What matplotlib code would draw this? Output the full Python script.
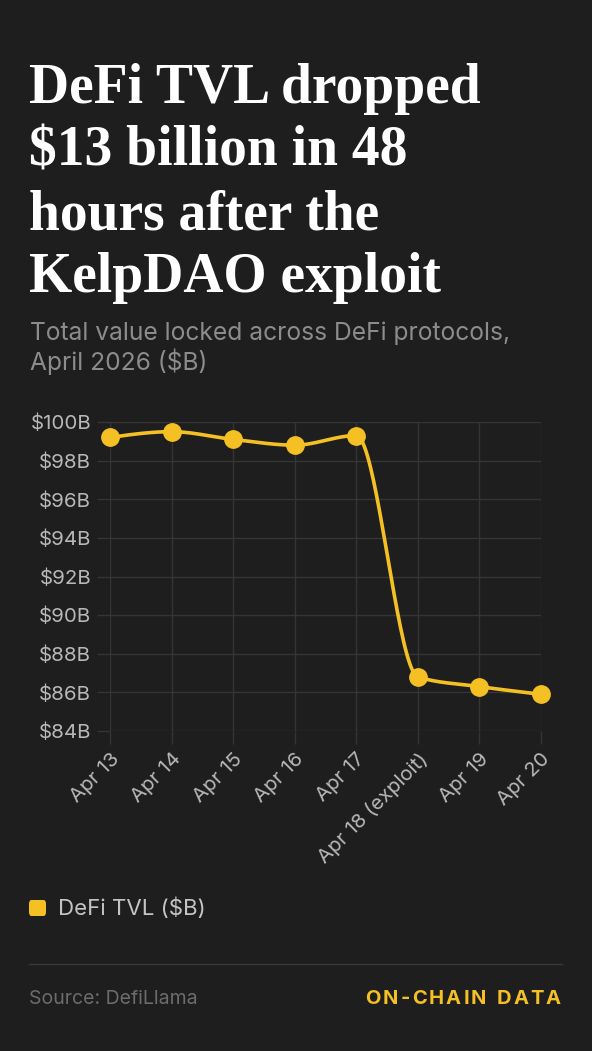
import numpy as np
import matplotlib.pyplot as plt
from matplotlib.patches import FancyBboxPatch
from matplotlib.lines import Line2D

# data
dates = ['Apr 13', 'Apr 14', 'Apr 15', 'Apr 16', 'Apr 17', 'Apr 18 (exploit)', 'Apr 19', 'Apr 20']
tvl = [99.2, 99.5, 99.1, 98.8, 99.3, 86.8, 86.3, 85.9]
y_ticks = [84, 86, 88, 90, 92, 94, 96, 98, 100]

title_lines = ['DeFi TVL dropped', '$13 billion in 48', 'hours after the', 'KelpDAO exploit']
subtitle_lines = ['Total value locked across DeFi protocols,', 'April 2026 ($B)']
legend_label = 'DeFi TVL ($B)'
source_text = 'Source: DefiLlama'
brand_text = 'ON-CHAIN DATA'

BG = '#1e1e1e'
YELLOW = '#f4c024'
GRID = '#353535'

W, H = 592, 1051


def monotone_curve(x, y, n=40):
    # monotone cubic (d3 curveMonotoneX style), only for drawing the line
    x = np.asarray(x, float)
    y = np.asarray(y, float)
    h = np.diff(x)
    s = np.diff(y) / h
    m = np.zeros_like(y)
    for i in range(1, len(y) - 1):
        s0, s1 = s[i - 1], s[i]
        if s0 * s1 <= 0:
            m[i] = 0
        else:
            p = (s0 * h[i] + s1 * h[i - 1]) / (h[i - 1] + h[i])
            m[i] = (np.sign(s0) + np.sign(s1)) * min(abs(s0), abs(s1), 0.5 * abs(p))
    m[0] = (3 * s[0] - m[1]) / 2
    m[-1] = (3 * s[-1] - m[-2]) / 2
    xs, ys = [], []
    for i in range(len(x) - 1):
        t = np.linspace(0, 1, n)
        h00 = 2 * t**3 - 3 * t**2 + 1
        h10 = t**3 - 2 * t**2 + t
        h01 = -2 * t**3 + 3 * t**2
        h11 = t**3 - t**2
        xs.append(x[i] + t * h[i])
        ys.append(h00 * y[i] + h10 * h[i] * m[i] + h01 * y[i + 1] + h11 * h[i] * m[i + 1])
    return np.concatenate(xs), np.concatenate(ys)


fig = plt.figure(figsize=(W / 100, H / 100), dpi=100, facecolor=BG)

def fx(px):
    return px / W

def fy(py):
    return 1 - py / H

# title
for i, line in enumerate(title_lines):
    fig.text(fx(29), fy(103 + i * 63), line, fontsize=40, fontweight='bold',
             family='Liberation Serif', color='white', va='baseline', ha='left')

for i, line in enumerate(subtitle_lines):
    fig.text(fx(30), fy(340 + i * 30), line, fontsize=17.7, family='Inter',
             color='#8c8c8c', va='baseline', ha='left')

# chart
ax = fig.add_axes([fx(110), fy(731), fx(541) - fx(110), fy(422) - fy(731)])
ax.set_facecolor(BG)
x = np.arange(len(dates))
cx, cy = monotone_curve(x, tvl)
ax.plot(cx, cy, color=YELLOW, lw=2.6, clip_on=False, zorder=3, solid_capstyle='round')
ax.plot(x, tvl, 'o', color=YELLOW, ms=12.5, clip_on=False, zorder=4)

ax.set_xlim(0, len(dates) - 1)
ax.set_ylim(84, 100)
ax.set_yticks(y_ticks)
ax.set_yticklabels(['${}B'.format(v) for v in y_ticks])
ax.set_xticks(x)
ax.set_xticklabels(dates, rotation=45, ha='right', va='top', rotation_mode='anchor')
ax.grid(True, color=GRID, lw=1)
for sp in ax.spines.values():
    sp.set_visible(False)
ax.tick_params(axis='both', length=9.5, width=1, color=GRID, labelcolor='#b8b8b8', labelsize=14.8)
ax.tick_params(axis='y', pad=4)
ax.tick_params(axis='x', pad=4)
for lab in ax.get_xticklabels() + ax.get_yticklabels():
    lab.set_family('Inter')

# legend
fig.patches.append(FancyBboxPatch((fx(29), fy(916)), fx(17), 16 / H,
                                  boxstyle='round,pad=0,rounding_size=0.004',
                                  transform=fig.transFigure, facecolor=YELLOW, edgecolor='none'))
fig.text(fx(58), fy(908), legend_label, fontsize=16, family='Inter', color='#c4c4c4',
         va='center', ha='left')

# footer
fig.add_artist(Line2D([fx(29), fx(562)], [fy(964), fy(964)], color='#383838', lw=1,
                      transform=fig.transFigure))
fig.text(fx(29), fy(999), source_text, fontsize=14, family='Inter', color='#6c6c6c',
         va='center', ha='left')

# brand text with letter spacing, laid out from the right edge
renderer = fig.canvas.get_renderer()
tracking = 2.2
pos = 561
for ch in reversed(brand_text):
    t = fig.text(fx(pos), fy(999), ch, fontsize=14.5, family='Inter', fontweight='bold',
                 color=YELLOW, va='center', ha='right')
    if ch == ' ':
        w = 5.5
    else:
        w = t.get_window_extent(renderer).width
    pos -= w + tracking

fig.savefig('out.png', dpi=100, facecolor=BG)
